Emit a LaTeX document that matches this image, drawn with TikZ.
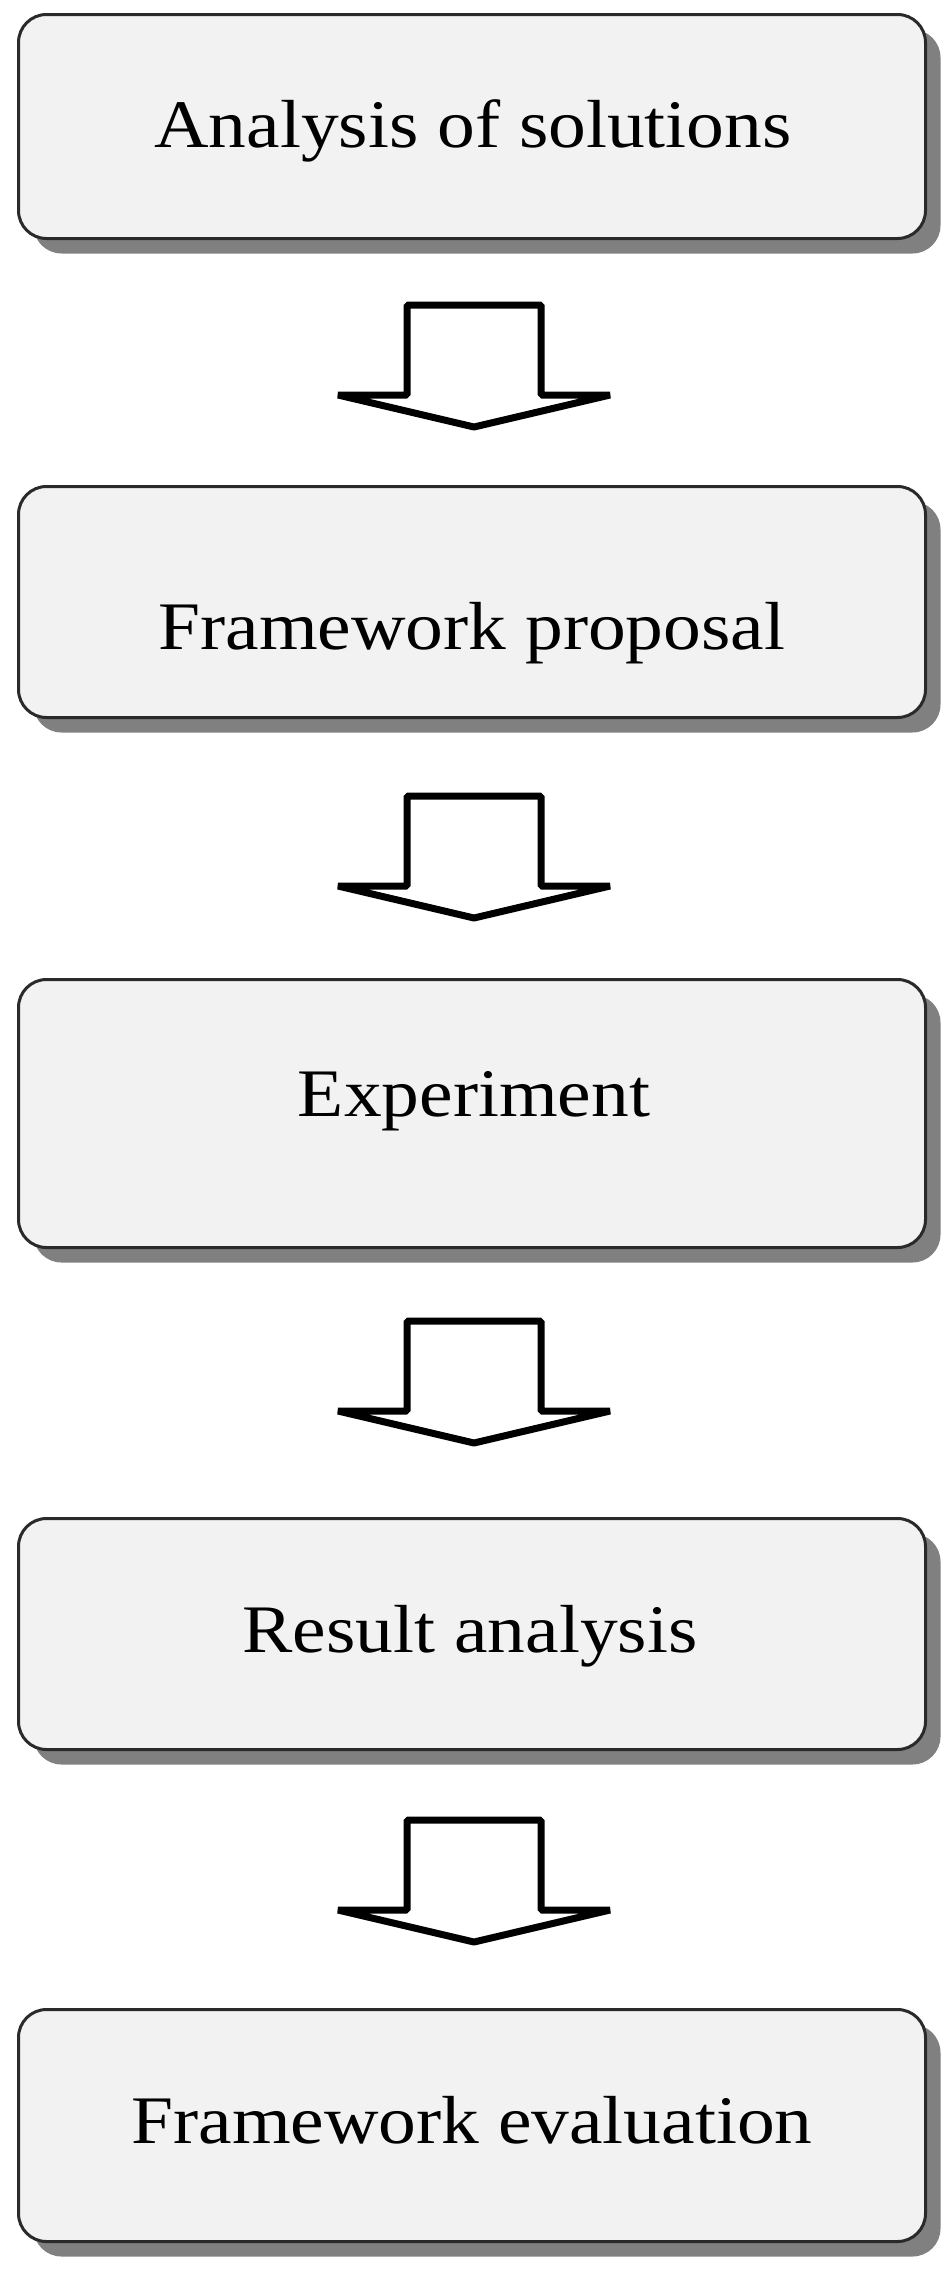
\documentclass[tikz,border=0pt]{standalone}
\usepackage{fontspec}
\setmainfont{Liberation Serif}[FakeStretch=1.11]
\usetikzlibrary{shadows}
\definecolor{boxfill}{HTML}{F2F2F2}
\definecolor{boxline}{HTML}{2A2A2A}
\definecolor{shadowgray}{HTML}{808080}
\tikzset{
  stagebox/.style={draw=boxline, line width=3pt, fill=boxfill, rounded corners=28pt,
    minimum width=907pt, inner sep=0pt, anchor=north west,
    drop shadow={shadow xshift=15pt, shadow yshift=-15pt, fill=shadowgray, opacity=1}},
  stagelabel/.style={anchor=base, inner sep=0pt, font=\fontsize{68}{80}\selectfont},
  blockline/.style={draw=black, line width=7pt, fill=white, line join=bevel},
  blockarrow/.pic={\draw[blockline] (-67,0) -- (67,0) -- (67,90) -- (136,90) -- (0,122) -- (-136,90) -- (-67,90) -- cycle;}
}
\begin{document}
\begin{tikzpicture}[x=1pt,y=-1pt]
\useasboundingbox (0,0) rectangle (952,2270);
\node[stagebox, minimum height=224pt] (b1) at (17,13) {};
\node[stagebox, minimum height=231pt] (b2) at (17,485) {};
\node[stagebox, minimum height=268pt] (b3) at (17,978) {};
\node[stagebox, minimum height=231pt] (b4) at (17,1517) {};
\node[stagebox, minimum height=232pt] (b5) at (17,2008) {};
\node[stagelabel] (t1) at (473,147) {Analysis of solutions};
\node[stagelabel] (t2) at (472,649) {Framework proposal};
\node[stagelabel] (t3) at (474,1116) {Experiment};
\node[stagelabel] (t4) at (470,1652) {Result analysis};
\node[stagelabel] (t5) at (472,2143) {Framework evaluation};
\coordinate (a1) at (474,305);
\coordinate (a2) at (474,796);
\coordinate (a3) at (474,1321);
\coordinate (a4) at (474,1820);
\pic at (a1) {blockarrow};
\pic at (a2) {blockarrow};
\pic at (a3) {blockarrow};
\pic at (a4) {blockarrow};
\end{tikzpicture}
\end{document}
